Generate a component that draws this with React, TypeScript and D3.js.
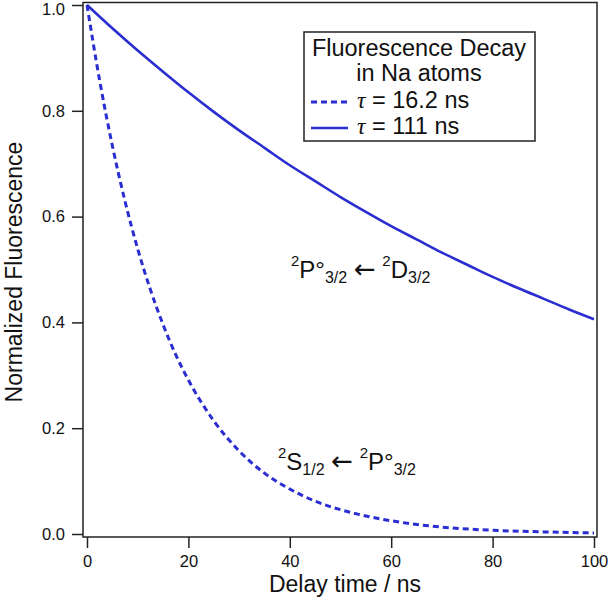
import React, { useEffect, useRef } from 'react';
import * as d3 from 'd3';

// valores (tiempo en ns, fluorescencia normalizada)
const fastTimes = [0, 2.5, 5, 7.5, 10, 12.5, 15, 17.5, 20, 25, 30, 35, 40, 45, 50, 55, 60, 70, 80, 90, 100];
const fastValues = [1.0, 0.857, 0.734, 0.629, 0.539, 0.462, 0.396, 0.339, 0.291, 0.214, 0.157, 0.115, 0.085, 0.062, 0.046, 0.034, 0.025, 0.013, 0.007, 0.004, 0.002];

const slowTimes = [0, 5, 10, 15, 20, 25, 30, 35, 40, 45, 50, 55, 60, 65, 70, 75, 80, 85, 90, 95, 100];
const slowValues = [1.0, 0.956, 0.914, 0.874, 0.835, 0.798, 0.763, 0.730, 0.697, 0.667, 0.637, 0.609, 0.582, 0.557, 0.532, 0.509, 0.486, 0.465, 0.445, 0.425, 0.406];

const xTicks = [0, 20, 40, 60, 80, 100];
const yTicks = [0.0, 0.2, 0.4, 0.6, 0.8, 1.0];
const legendTitle = ['Fluorescence Decay', 'in Na atoms'];
const legendLabels = ['16.2 ns', '111 ns'];

const W = 609;
const H = 600;
const BLUE = '#2a2ed0';
const FONT = '"Liberation Sans", Arial, Helvetica, sans-serif';

const DecayChart = () => {
  const svgRef = useRef<SVGSVGElement | null>(null);

  useEffect(() => {
    if (!svgRef.current) return;
    const svg = d3.select(svgRef.current);
    svg.selectAll('*').remove();

    const x = d3.scaleLinear().domain([0, 100]).range([87, 594]);
    const y = d3.scaleLinear().domain([0, 1]).range([534, 5]);

    // marco
    svg.append('rect')
      .attr('x', 83).attr('y', 2.5)
      .attr('width', 597 - 83).attr('height', 537 - 2.5)
      .attr('fill', 'none').attr('stroke', '#222').attr('stroke-width', 1.5);

    // eje y
    const yAxis = svg.append('g')
      .attr('transform', 'translate(83,0)')
      .call(d3.axisLeft(y).tickValues(yTicks).tickFormat(d3.format('.1f')).tickSize(11).tickPadding(7));
    yAxis.select('.domain').remove();
    yAxis.selectAll('line').attr('stroke', '#222').attr('stroke-width', 1.5);
    yAxis.selectAll('text').attr('font-family', FONT).attr('font-size', 16.5).attr('fill', '#111');
    // que la etiqueta 1.0 no quede cortada arriba
    yAxis.selectAll<SVGTextElement, number>('text').filter(d => d === 1).attr('dy', '0.55em');

    // eje x
    const xAxis = svg.append('g')
      .attr('transform', 'translate(0,537)')
      .call(d3.axisBottom(x).tickValues(xTicks).tickSize(11).tickPadding(7));
    xAxis.select('.domain').remove();
    xAxis.selectAll('line').attr('stroke', '#222').attr('stroke-width', 1.5);
    xAxis.selectAll('text').attr('font-family', FONT).attr('font-size', 16.5).attr('fill', '#111');

    // títulos de ejes
    svg.append('text')
      .attr('x', 345).attr('y', 592)
      .attr('text-anchor', 'middle')
      .attr('font-family', FONT).attr('font-size', 23).attr('fill', '#111')
      .text('Delay time / ns');
    svg.append('text')
      .attr('transform', 'translate(22,272) rotate(-90)')
      .attr('text-anchor', 'middle')
      .attr('font-family', FONT).attr('font-size', 23).attr('fill', '#111')
      .text('Normalized Fluorescence');

    // curvas
    const line = d3.line<[number, number]>()
      .x(d => x(d[0]))
      .y(d => y(d[1]))
      .curve(d3.curveMonotoneX);

    const fast = fastTimes.map((t, i) => [t, fastValues[i]] as [number, number]);
    const slow = slowTimes.map((t, i) => [t, slowValues[i]] as [number, number]);

    svg.append('path')
      .attr('d', line(slow))
      .attr('fill', 'none').attr('stroke', BLUE).attr('stroke-width', 2.6);
    svg.append('path')
      .attr('d', line(fast))
      .attr('fill', 'none').attr('stroke', BLUE).attr('stroke-width', 3)
      .attr('stroke-dasharray', '6,4');

    // leyenda
    const lg = svg.append('g');
    lg.append('rect')
      .attr('x', 304).attr('y', 32).attr('width', 231).attr('height', 109)
      .attr('fill', 'white').attr('stroke', '#222').attr('stroke-width', 1.5);
    legendTitle.forEach((t, i) => {
      lg.append('text')
        .attr('x', 419).attr('y', 56 + i * 25)
        .attr('text-anchor', 'middle')
        .attr('font-family', FONT).attr('font-size', 23.5).attr('fill', '#111')
        .text(t);
    });
    legendLabels.forEach((lab, i) => {
      const yy = 108 + i * 26;
      lg.append('line')
        .attr('x1', 311).attr('x2', 348)
        .attr('y1', yy - 6).attr('y2', yy - 6)
        .attr('stroke', BLUE).attr('stroke-width', i === 0 ? 3 : 2.6)
        .attr('stroke-dasharray', i === 0 ? '6,4' : null);
      const txt = lg.append('text')
        .attr('x', 357).attr('y', yy)
        .attr('font-family', FONT).attr('font-size', 23.5).attr('fill', '#111');
      txt.append('tspan')
        .attr('font-family', '"Liberation Serif", "DejaVu Serif", serif')
        .attr('font-style', 'italic')
        .text('τ');
      txt.append('tspan').text(' = ' + lab);
    });

    // anotaciones de transición
    const term = (g: d3.Selection<SVGTextElement, unknown, null, undefined>, sup: string, main: string, sub: string) => {
      g.append('tspan').attr('font-size', 15).attr('dy', -12).text(sup);
      g.append('tspan').attr('font-size', 24).attr('dy', 12).text(main);
      g.append('tspan').attr('font-size', 16).attr('dy', 5).text(sub);
    };
    const arrow = (g: d3.Selection<SVGTextElement, unknown, null, undefined>) => {
      g.append('tspan').attr('font-size', 24).attr('dy', -5).text(' ');
      g.append('tspan').attr('font-size', 26).attr('font-family', '"DejaVu Sans", sans-serif').text('←');
      g.append('tspan').attr('font-size', 24).text(' ');
    };

    const a1 = svg.append('text')
      .attr('x', 291).attr('y', 278)
      .attr('font-family', FONT).attr('fill', '#111');
    term(a1, '2', 'P°', '3/2');
    arrow(a1);
    term(a1, '2', 'D', '3/2');

    const a2 = svg.append('text')
      .attr('x', 278).attr('y', 470)
      .attr('font-family', FONT).attr('fill', '#111');
    term(a2, '2', 'S', '1/2');
    arrow(a2);
    term(a2, '2', 'P°', '3/2');
  }, []);

  return (
    <svg
      ref={svgRef}
      width={W}
      height={H}
      style={{ position: 'absolute', left: 0, top: 0, background: 'white' }}
    ></svg>
  );
};

export default function App() {
  return <DecayChart />;
}
